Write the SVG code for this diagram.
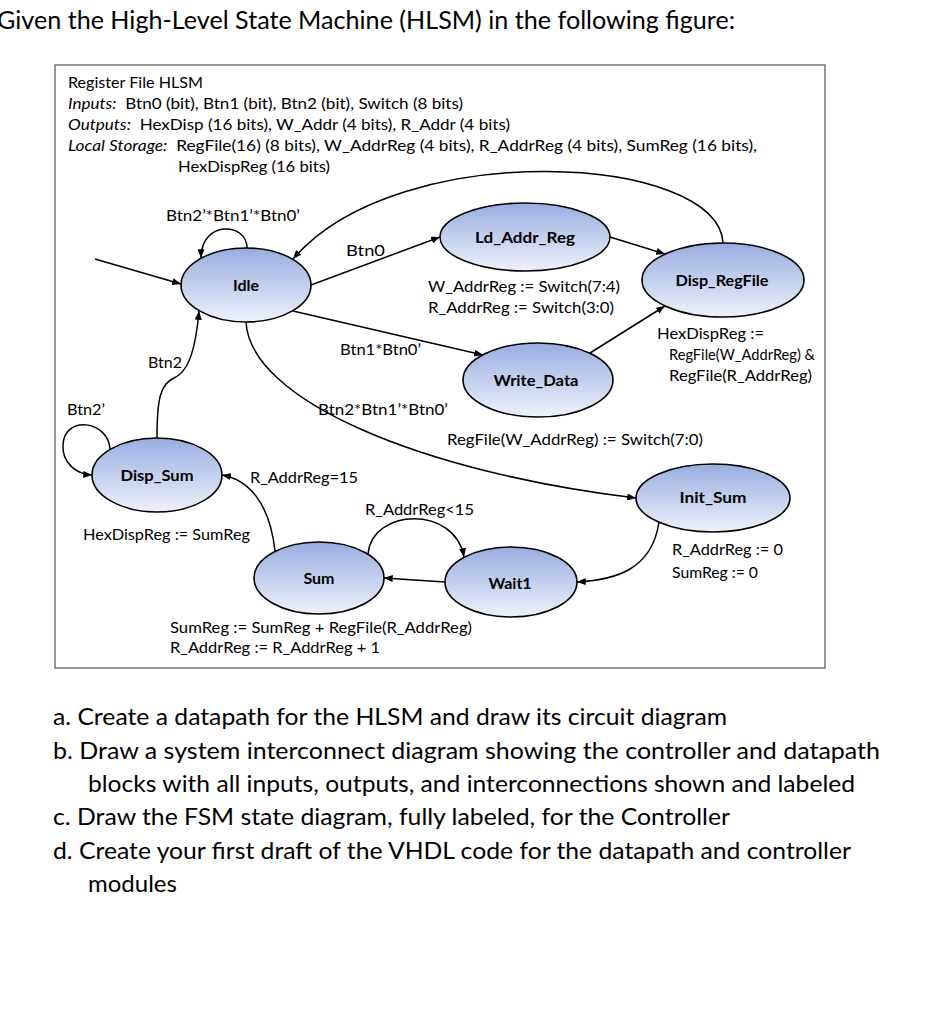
<svg xmlns="http://www.w3.org/2000/svg" width="935" height="1024" viewBox="0 0 935 1024">
<defs>
<linearGradient id="nodeFill" x1="0" y1="0" x2="0" y2="1">
<stop offset="0" stop-color="#98ade0"/>
<stop offset="1" stop-color="#eef1fa"/>
</linearGradient>
<marker id="arr" viewBox="0 0 10 8" refX="10" refY="4" markerWidth="9" markerHeight="7" markerUnits="userSpaceOnUse" orient="auto">
<path d="M0,0 L10,4 L0,8 z" fill="#000"/>
</marker>
</defs>
<style>
text{font-family:Lato,"Open Sans","Liberation Sans",sans-serif;fill:#000}
.t{font-size:16px}
.h{font-size:15px}
.big{font-size:24px}
.n{font-size:16px;font-weight:bold;text-anchor:middle}
.node ellipse{fill:url(#nodeFill);stroke:#000;stroke-width:1.6}
.edges path{fill:none;stroke:#000;stroke-width:1.5}
.arrow{marker-end:url(#arr)}
</style>
<rect width="935" height="1024" fill="#fff"/>
<text class="big" x="-3" y="29" textLength="738" lengthAdjust="spacingAndGlyphs" style="font-size:25px">Given the High-Level State Machine (HLSM) in the following figure:</text>
<rect x="55" y="65" width="770" height="603" fill="none" stroke="#555" stroke-width="1.2"/>
<g id="header">
<text class="h" x="68" y="88" textLength="135" lengthAdjust="spacingAndGlyphs">Register File HLSM</text>
<text class="h" x="68" y="109" textLength="395" lengthAdjust="spacingAndGlyphs"><tspan font-style="italic">Inputs:</tspan>&#160;&#160;Btn0 (bit), Btn1 (bit), Btn2 (bit), Switch (8 bits)</text>
<text class="h" x="68" y="130" textLength="442" lengthAdjust="spacingAndGlyphs"><tspan font-style="italic">Outputs:</tspan>&#160;&#160;HexDisp (16 bits), W_Addr (4 bits), R_Addr (4 bits)</text>
<text class="h" x="68" y="151" textLength="689" lengthAdjust="spacingAndGlyphs"><tspan font-style="italic">Local Storage:</tspan>&#160;&#160;RegFile(16) (8 bits), W_AddrReg (4 bits), R_AddrReg (4 bits), SumReg (16 bits),</text>
<text class="h" x="178" y="172" textLength="152" lengthAdjust="spacingAndGlyphs">HexDispReg (16 bits)</text>
</g>
<g id="connectors" class="edges">
<path class="arrow" d="M95,259 L181,284"/>
<path class="arrow" d="M247,248 C247,222 201,220 201,258"/>
<path class="arrow" d="M311,285 L440,237"/>
<path class="arrow" d="M610,237 L665,254"/>
<path class="arrow" d="M723,243 C720,155 400,135 293,259"/>
<path class="arrow" d="M293,311 L483,355"/>
<path class="arrow" d="M590,353 L665,306"/>
<path class="arrow" d="M246,322 C250,400 420,472 636,498"/>
<path class="arrow" d="M157,438 C157,400 160,384 174,378 C190,371 196,345 199,311"/>
<path class="arrow" d="M110,449 C108,420 64,415 63,445 C62,463 76,474 92,475"/>
<path class="arrow" d="M275,551 C270,505 250,480 222,475"/>
<path class="arrow" d="M368,554 C372,508 455,505 464,557"/>
<path class="arrow" d="M445,582 L384,578"/>
<path class="arrow" d="M659,522 C652,570 615,580 577,582"/>
</g>
<g id="edge-labels">
<text class="t" x="166" y="221" textLength="134" lengthAdjust="spacingAndGlyphs">Btn2’*Btn1’*Btn0’</text>
<text class="t" x="346" y="256" textLength="39" lengthAdjust="spacingAndGlyphs">Btn0</text>
<text class="t" x="340" y="355" textLength="81" lengthAdjust="spacingAndGlyphs">Btn1*Btn0’</text>
<text class="t" x="148" y="368" textLength="34" lengthAdjust="spacingAndGlyphs">Btn2</text>
<text class="t" x="67" y="415" textLength="38" lengthAdjust="spacingAndGlyphs">Btn2’</text>
<text class="t" x="318" y="415" textLength="130" lengthAdjust="spacingAndGlyphs">Btn2*Btn1’*Btn0’</text>
<text class="t" x="250" y="483" textLength="108" lengthAdjust="spacingAndGlyphs">R_AddrReg=15</text>
<text class="t" x="365" y="515" textLength="109" lengthAdjust="spacingAndGlyphs">R_AddrReg&lt;15</text>
</g>
<g id="actions">
<text class="t" x="428" y="292" textLength="192" lengthAdjust="spacingAndGlyphs">W_AddrReg := Switch(7:4)</text>
<text class="t" x="428" y="313" textLength="186" lengthAdjust="spacingAndGlyphs">R_AddrReg := Switch(3:0)</text>
<text class="t" x="657" y="339" textLength="107" lengthAdjust="spacingAndGlyphs">HexDispReg :=</text>
<text class="t" x="669" y="360" textLength="146" lengthAdjust="spacingAndGlyphs">RegFile(W_AddrReg) &amp;</text>
<text class="t" x="669" y="381" textLength="143" lengthAdjust="spacingAndGlyphs">RegFile(R_AddrReg)</text>
<text class="t" x="447" y="445" textLength="256" lengthAdjust="spacingAndGlyphs">RegFile(W_AddrReg) := Switch(7:0)</text>
<text class="t" x="83" y="540" textLength="167" lengthAdjust="spacingAndGlyphs">HexDispReg := SumReg</text>
<text class="t" x="672" y="555" textLength="111" lengthAdjust="spacingAndGlyphs">R_AddrReg := 0</text>
<text class="t" x="672" y="578" textLength="86" lengthAdjust="spacingAndGlyphs">SumReg := 0</text>
<text class="t" x="170" y="633" textLength="302" lengthAdjust="spacingAndGlyphs">SumReg := SumReg + RegFile(R_AddrReg)</text>
<text class="t" x="170" y="653" textLength="210" lengthAdjust="spacingAndGlyphs">R_AddrReg := R_AddrReg + 1</text>
</g>
<g id="Idle" class="node"><ellipse cx="246" cy="285" rx="65" ry="37"/><text class="n" x="246" y="291">Idle</text></g>
<g id="Ld_Addr_Reg" class="node"><ellipse cx="525" cy="237" rx="85" ry="34"/><text class="n" x="525" y="243" textLength="100" lengthAdjust="spacingAndGlyphs">Ld_Addr_Reg</text></g>
<g id="Disp_RegFile" class="node"><ellipse cx="723" cy="280" rx="81" ry="37"/><text class="n" x="722" y="286" textLength="93" lengthAdjust="spacingAndGlyphs">Disp_RegFile</text></g>
<g id="Write_Data" class="node"><ellipse cx="538" cy="380" rx="75" ry="37"/><text class="n" x="536" y="386" textLength="85" lengthAdjust="spacingAndGlyphs">Write_Data</text></g>
<g id="Disp_Sum" class="node"><ellipse cx="157" cy="475" rx="65" ry="37"/><text class="n" x="157" y="481" textLength="73" lengthAdjust="spacingAndGlyphs">Disp_Sum</text></g>
<g id="Init_Sum" class="node"><ellipse cx="713" cy="498" rx="77" ry="34"/><text class="n" x="713" y="503" textLength="67" lengthAdjust="spacingAndGlyphs">Init_Sum</text></g>
<g id="Sum" class="node"><ellipse cx="319" cy="578" rx="65" ry="36"/><text class="n" x="319" y="584">Sum</text></g>
<g id="Wait1" class="node"><ellipse cx="511" cy="582" rx="66" ry="35"/><text class="n" x="510" y="589">Wait1</text></g>
<g id="questions">
<text class="big" x="53" y="725" textLength="674" lengthAdjust="spacingAndGlyphs">a. Create a datapath for the HLSM and draw its circuit diagram</text>
<text class="big" x="53" y="759" textLength="827" lengthAdjust="spacingAndGlyphs">b. Draw a system interconnect diagram showing the controller and datapath</text>
<text class="big" x="88" y="792" textLength="767" lengthAdjust="spacingAndGlyphs">blocks with all inputs, outputs, and interconnections shown and labeled</text>
<text class="big" x="53" y="825" textLength="677" lengthAdjust="spacingAndGlyphs">c. Draw the FSM state diagram, fully labeled, for the Controller</text>
<text class="big" x="53" y="859" textLength="798" lengthAdjust="spacingAndGlyphs">d. Create your first draft of the VHDL code for the datapath and controller</text>
<text class="big" x="88" y="892">modules</text>
</g>
</svg>
